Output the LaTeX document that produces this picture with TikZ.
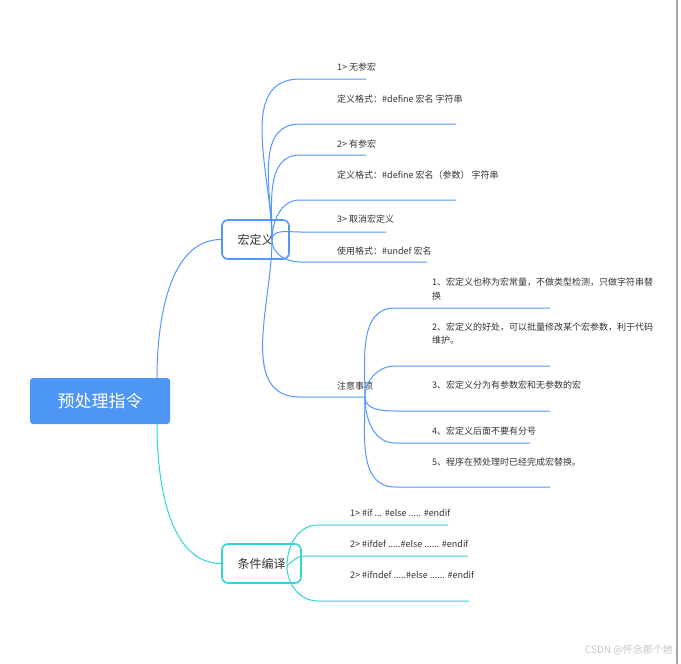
\documentclass[tikz,border=0pt]{standalone}
\usepackage{fontspec}
\setmainfont{Noto Sans CJK SC}
\definecolor{bl}{HTML}{5297FF}
\definecolor{cy}{HTML}{2ED6D6}
\definecolor{rootc}{HTML}{4E96F5}
\definecolor{tx}{HTML}{333333}
\tikzset{
 lbl/.style={anchor=base west,inner sep=0pt,text=tx,font=\fontsize{9}{13}\selectfont},
 wlbl/.style={lbl,align=left,text width=260pt},
 bline/.style={bl,line width=1pt},
 cline/.style={cy,line width=1pt},
 up/.style={out=90,in=180},
 dn/.style={out=-90,in=180}
}
\begin{document}
\begin{tikzpicture}[x=1pt,y=-1pt]
\useasboundingbox (0,0) rectangle (681,664);
\fill[white] (0,0) rectangle (681,664);
\begin{scope}
\clip (0,0) rectangle (676,664);
% root
\node[fill=rootc,rounded corners=3pt,minimum width=140pt,minimum height=46pt,text=white,font=\fontsize{17}{20}\selectfont] (root) at (100,401) {预处理指令};
\coordinate (rt) at (157,378);
\coordinate (rb) at (157,424);
% main branches
\node[draw=bl,line width=1.6pt,rounded corners=6pt,minimum width=67pt,minimum height=39pt,text=tx,font=\fontsize{12}{14}\selectfont] (hong) at (255.5,239.5) {宏定义};
\node[draw=cy,line width=1.6pt,rounded corners=6pt,minimum width=79pt,minimum height=39pt,text=tx,font=\fontsize{12}{14}\selectfont] (tiao) at (261.5,563.5) {条件编译};
\draw[bline] (rt) to[out=90,in=180,looseness=0.9] (hong.west);
\draw[cline] (rb) to[out=-90,in=180,looseness=0.9] (tiao.west);
% macro children
\coordinate (ho) at (272,240);
\node[lbl] (m1) at (337,70) {1> 无参宏};
\node[lbl] (m2) at (337,102) {定义格式：\#define 宏名 字符串};
\node[lbl] (m3) at (337,147) {2> 有参宏};
\node[lbl] (m4) at (337,178) {定义格式：\#define 宏名（参数） 字符串};
\node[lbl] (m5) at (337,222) {3> 取消宏定义};
\node[lbl] (m6) at (337,254) {使用格式：\#undef 宏名};
\node[lbl] (m7) at (337,389) {注意事项};
\foreach \y/\e/\s in {79/366/up,124/456/up,155/366/up,200/456/up,232/386/up,262/427/dn,397/365/dn}
  \draw[bline] (ho) to[\s] (300,\y) -- (\e,\y);
% notes
\coordinate (no) at (365,397);
\node[lbl] (n1) at (432,285) {1、宏定义也称为宏常量，不做类型检测，只做字符串替};
\node[lbl] (n1b) at (432,299) {换};
\node[lbl] (n2) at (432,330) {2、宏定义的好处，可以批量修改某个宏参数，利于代码};
\node[lbl] (n2b) at (432,343) {维护。};
\node[lbl] (n3) at (432,388) {3、宏定义分为有参数宏和无参数的宏};
\node[lbl] (n4) at (432,434) {4、宏定义后面不要有分号};
\node[lbl] (n5) at (432,465) {5、程序在预处理时已经完成宏替换。};
\foreach \y/\e/\s in {308/550/up,366/550/up,411/550/dn,443/530/dn,487/550/dn}
  \draw[bline] (no) to[\s] (395,\y) -- (\e,\y);
% conditional children
\coordinate (co) at (287,566);
\node[lbl] (c1) at (350,516) {1> \#if ... \#else ..... \#endif};
\node[lbl] (c2) at (350,547) {2> \#ifdef .....\#else ...... \#endif};
\node[lbl] (c3) at (350,578) {2> \#ifndef .....\#else ...... \#endif};
\draw[cline] (co) to[up] (318,525) -- (448,525);
\draw[cline] (co) to[out=45,in=180] (305,556) -- (468,556);
\draw[cline] (co) to[dn] (318,601) -- (469,601);
\end{scope}
\draw[gray!70,line width=1.5pt] (677,0) -- (677,664);
\node[anchor=base east,inner sep=0pt,text=gray!45,font=\fontsize{10}{12}\selectfont] (wm) at (673,653) {CSDN @怀念那个她};
\end{tikzpicture}
\end{document}
